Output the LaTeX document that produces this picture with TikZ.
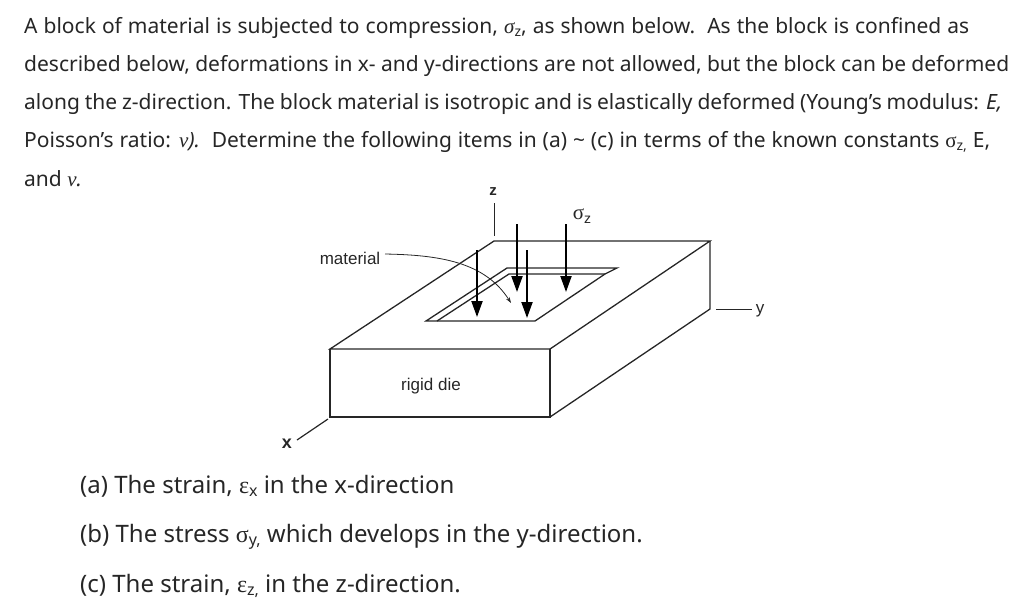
\documentclass[tikz,border=0pt]{standalone}
\usepackage{fontspec}
\setmainfont{Noto Sans}
\newfontfamily\figfont{Liberation Sans}
\newfontfamily\greekfont{Liberation Serif}
\usetikzlibrary{arrows.meta}
\newcommand{\sgm}{{\greekfont σ}}
\newcommand{\eps}{{\greekfont ε}}
\newcommand{\nuit}{{\greekfont\itshape ν}}
\newcommand{\subtxt}[1]{\raisebox{-.3ex}{\fontsize{14}{14}\selectfont #1}}
\newcommand{\subbig}[1]{\raisebox{-.3ex}{\fontsize{16}{16}\selectfont #1}}
\tikzset{
	textline/.style={anchor=base west, inner sep=0pt, font=\fontsize{21}{25}\selectfont, text=black!85},
	itemline/.style={textline, font=\fontsize{24}{28}\selectfont},
	figlabel/.style={inner sep=0pt, font=\figfont\fontsize{17}{19}\selectfont, text=black!85},
	edge/.style={line width=1.3pt, black!85},
	load/.style={line width=2pt, black, -{Triangle[length=16pt, width=11pt]}},
}

\begin{document}
\begin{tikzpicture}[x=1pt, y=-1pt]
	\useasboundingbox (0, 0) rectangle (1024, 614);

	\node[textline] (lineA) at (24, 33) {\makebox[945pt][s]{A block of material is subjected to compression, {\greekfont\itshape σ}\subtxt{z},\ as shown below.\ \ As the block is confined as}};
	\node[textline] (lineB) at (24, 71) {\makebox[985pt][s]{described below, deformations in x- and y-directions are not allowed, but the block can be deformed}};
	\node[textline] (lineC) at (24, 109) {\makebox[978pt][s]{along the z-direction. The block material is isotropic and is elastically deformed (Young's modulus: \textit{E,}}};
	\node[textline] (lineD) at (24, 147) {\makebox[966pt][s]{Poisson's ratio: \nuit\textit{).}\ \ Determine the following items in (a) \textasciitilde\ (c) in terms of the known constants \sgm\subtxt{z,} E,}};
	\node[textline] (lineE) at (24, 186) {and \nuit\textit{.}};

	\node[itemline] (itemA) at (80, 493) {(a) The strain, \eps\subbig{x} in the x-direction};
	\node[itemline] (itemB) at (80, 542) {(b) The stress \sgm\subbig{y,} which develops in the y-direction.};
	\node[itemline] (itemC) at (80, 592) {(c) The strain, \eps\subbig{z,} in the z-direction.};

	\coordinate (backL) at (494, 241);
	\coordinate (backR) at (710, 241);
	\coordinate (frontL) at (330, 349);
	\coordinate (frontR) at (550, 349);
	\coordinate (baseL) at (330, 417);
	\coordinate (baseR) at (550, 417);
	\coordinate (sideR) at (710, 309);

	\coordinate (holeBL) at (507, 268);
	\coordinate (holeBR) at (617, 268);
	\coordinate (holeFL) at (426, 321);
	\coordinate (holeFR) at (535, 321);
	\coordinate (wallBL) at (509, 274);
	\coordinate (wallBR) at (605, 274);
	\coordinate (wallFL) at (437, 321);

	\draw[edge] (backL) -- (backR) -- (frontR) -- (frontL) -- cycle;
	\draw[edge] (frontL) -- (baseL) -- (baseR) -- (frontR);
	\draw[edge] (baseR) -- (sideR) -- (backR);
	\draw[edge] (holeFR) -- (holeFL) -- (holeBL) -- (holeBR) -- (wallBR) -- (holeFR);
	\draw[edge] (wallFL) -- (wallBL) -- (wallBR);

	\node[figlabel] (matl) at (350, 258.5) {material};
	\node[figlabel] (die) at (431, 386) {rigid die};
	\node[figlabel, font=\figfont\bfseries\fontsize{15}{16}\selectfont] (zlab) at (493, 192) {z};
	\node[figlabel] (ylab) at (760, 311) {y};
	\node[figlabel, font=\figfont\bfseries\fontsize{18}{19}\selectfont] (xlab) at (287, 444) {x};
	\node[figlabel, font=\figfont\fontsize{21}{22}\selectfont] (sigmalab) at (582, 216) {\sgm\subtxt{z}};

	\coordinate (ztop) at (494.5, 203);
	\coordinate (zend) at (494.5, 236);
	\coordinate (yend) at (716, 309);
	\coordinate (yfree) at (752, 309);
	\coordinate (xend) at (328, 419);
	\coordinate (xfree) at (297, 440);
	\coordinate (matlfrom) at (385, 254);
	\coordinate (matlto) at (511, 303);

	\draw[edge, line width=1pt] (ztop) -- (zend);
	\draw[edge, line width=1pt] (yend) -- (yfree);
	\draw[edge, line width=1.2pt] (xend) -- (xfree);
	\draw[line width=.8pt, black!85, -{Stealth[length=6pt, width=4pt]}] (matlfrom) .. controls (440, 255) and (485, 262) .. (matlto);

	\coordinate (loadA) at (477, 250);
	\coordinate (loadB) at (517, 224);
	\coordinate (loadC) at (527, 250);
	\coordinate (loadD) at (566, 224);
	\coordinate (loadAtip) at (477, 317);
	\coordinate (loadBtip) at (517, 292);
	\coordinate (loadCtip) at (527, 318);
	\coordinate (loadDtip) at (566, 292);
	\draw[load] (loadA) -- (loadAtip);
	\draw[load] (loadB) -- (loadBtip);
	\draw[load] (loadC) -- (loadCtip);
	\draw[load] (loadD) -- (loadDtip);
\end{tikzpicture}
\end{document}
